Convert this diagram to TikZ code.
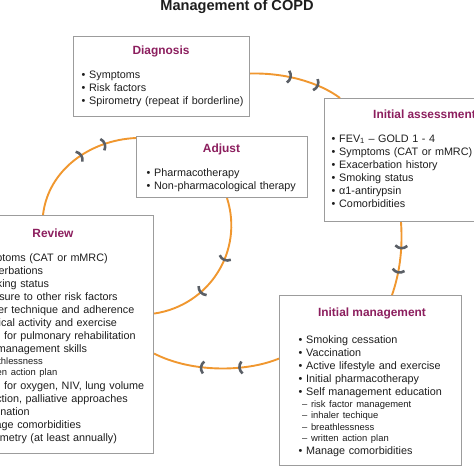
\documentclass[tikz,border=0pt]{standalone}
\usepackage{fontspec}
\setmainfont{Liberation Sans}
\usetikzlibrary{decorations.markings}
\definecolor{flow}{HTML}{F0972F}
\definecolor{ticky}{HTML}{5A5F66}
\definecolor{headc}{HTML}{8C1E5E}
\definecolor{frame}{HTML}{9C9C9C}
\definecolor{txt}{HTML}{1E1E1E}
\newcommand\myb[1]{\par\noindent\strut\makebox[7.5pt][l]{\textbullet}#1}
\newcommand\myc[1]{\par\noindent\strut\hspace*{7.5pt}#1}
\newcommand\mys[1]{\par{\fontsize{9.4}{11.6}\selectfont\noindent\hspace*{3.5pt}–\ #1\par}}
\newcommand\mytick{\draw[ticky,line width=2.6pt] (-1.6pt,-6pt) .. controls (1.8pt,-2.5pt) and (1.8pt,2.5pt) .. (-1.6pt,6pt);}
\begin{document}
\begin{tikzpicture}[x=1pt,y=-1pt,
  box/.style={draw=frame,line width=1.1pt,fill=white,inner sep=0pt,anchor=north west},
  head/.style={text=headc,font=\bfseries\fontsize{11.9}{14}\selectfont,anchor=base,inner sep=0pt},
  list/.style={anchor=north west,inner sep=0pt,text width=230pt,align=left,text=txt,font=\fontsize{10.8}{13.1}\selectfont},
  flowline/.style={draw=flow,line width=1.9pt},
  ticks/.style 2 args={postaction={decorate,decoration={markings,mark=at position #1 with {\mytick},mark=at position #2 with {\mytick}}}}
]
\useasboundingbox (0,0) rectangle (474,474);
\clip (0,0) rectangle (474,474);

% title
\node[anchor=base,inner sep=0pt,font=\bfseries\fontsize{14.6}{17}\selectfont,text=txt] (title) at (237,10.6) {Management of COPD};

% boxes
\node[box,minimum width=176pt,minimum height=80pt] (diag) at (73,36) {};
\node[box,minimum width=201pt,minimum height=123pt] (ia) at (324,98) {};
\node[box,minimum width=171pt,minimum height=61pt] (adj) at (136,136) {};
\node[box,minimum width=200pt,minimum height=238pt] (rev) at (-47,215) {};
\node[box,minimum width=182pt,minimum height=170pt] (im) at (279,295) {};

% headings
\node[head] (diagh) at (161,54) {Diagnosis};
\node[head] (iah) at (424.5,118.5) {Initial assessment};
\node[head] (adjh) at (221.5,152.5) {Adjust};
\node[head] (revh) at (53,237) {Review};
\node[head] (imh) at (372,316) {Initial management};

% lists
\node[list] (diagl) at (81.5,64.7) {\myb{Symptoms}\myb{Risk factors}\myb{Spirometry (repeat if borderline)}\par};
\node[list] (ial) at (331.5,128.7) {\myb{FEV\textsubscript{1} – GOLD 1 - 4}\myb{Symptoms (CAT or mMRC)}\myb{Exacerbation history}\myb{Smoking status}\myb{α1-antirypsin}\myb{Comorbidities}\par};
\node[list] (adjl) at (146.5,162.7) {\myb{Pharmacotherapy}\myb{Non-pharmacological therapy}\par};
\node[list] (revl) at (-33,247.7) {\myb{Symptoms (CAT or mMRC)}\myb{Exacerbations}\myb{Smoking status}\myb{Exposure to other risk factors}\myb{Inhaler technique and adherence}\myb{Physical activity and exercise}\myb{Need for pulmonary rehabilitation}\myb{Self management skills}\mys{breathlessness}\mys{written action plan}\myb{Need for oxygen, NIV, lung volume}\myc{reduction, palliative approaches}\myb{Vaccination}\myb{Manage comorbidities}\myb{Spirometry (at least annually)}\par};
\node[list] (iml) at (298.5,329.7) {\myb{Smoking cessation}\myb{Vaccination}\myb{Active lifestyle and exercise}\myb{Initial pharmacotherapy}\myb{Self management education}\mys{risk factor management}\mys{inhaler techique}\mys{breathlessness}\mys{written action plan}\myb{Manage comorbidities}\par};

% flow arcs
\draw[flowline,ticks={0.42}{0.72}] ([yshift=3pt]diag.east) .. controls +(36,-1) and +(-20,-15) .. ([xshift=16pt]ia.north west);
\draw[flowline,ticks={0.34}{0.67}] ([xshift=77pt]ia.south west) .. controls +(2,29) and +(7,-20) .. ([xshift=113pt]im.north west);
\draw[flowline,ticks={0.31}{0.61}] ([yshift=22pt]im.west) .. controls +(-34,14) and +(37,19) .. ([yshift=-19pt]rev.east);
\draw[flowline,ticks={0.55}{0.75}] ([xshift=90pt]rev.north west) .. controls +(5,-45) and +(-46,2) .. ([yshift=-2pt]adj.north west);
\draw[flowline,ticks={0.4}{0.66}] ([xshift=91pt]adj.south west) .. controls +(17,53) and +(55,-8) .. ([yshift=21pt]rev.east);
\end{tikzpicture}
\end{document}
